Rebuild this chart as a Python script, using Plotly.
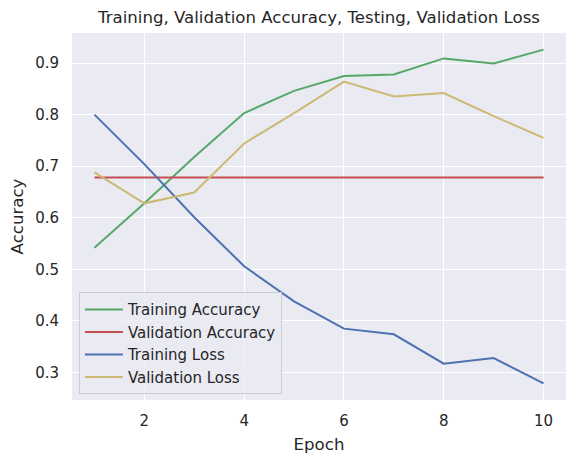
import plotly.graph_objects as go

epochs = [1, 2, 3, 4, 5, 6, 7, 8, 9, 10]
training_accuracy = [0.542, 0.628, 0.718, 0.803, 0.846, 0.875, 0.878, 0.909, 0.899, 0.926]
validation_accuracy = [0.678, 0.678, 0.678, 0.678, 0.678, 0.678, 0.678, 0.678, 0.678, 0.678]
training_loss = [0.800, 0.704, 0.601, 0.506, 0.438, 0.385, 0.374, 0.317, 0.328, 0.279]
validation_loss = [0.688, 0.628, 0.649, 0.744, 0.803, 0.864, 0.835, 0.842, 0.797, 0.755]

series_names = ["Training Accuracy", "Validation Accuracy", "Training Loss", "Validation Loss"]
series_colors = ["#55A868", "#C44E52", "#4C72B0", "#CCB974"]
series_values = [training_accuracy, validation_accuracy, training_loss, validation_loss]

xticks = [2, 4, 6, 8, 10]
yticks = [0.3, 0.4, 0.5, 0.6, 0.7, 0.8, 0.9]

FONT = "DejaVu Sans"
TXT = "#262626"

fig = go.Figure()
for name, color, vals in zip(series_names, series_colors, series_values):
    fig.add_trace(go.Scatter(x=epochs, y=vals, mode="lines", name=name,
                             line=dict(color=color, width=2)))

fig.update_layout(
    width=561, height=447,
    margin=dict(l=64, r=3, t=25, b=55),
    paper_bgcolor="white",
    plot_bgcolor="#EAEAF2",
    font=dict(family=FONT, color=TXT, size=15),
    title=dict(text="Training, Validation Accuracy, Testing, Validation Loss",
               x=0.5, xref="paper", xanchor="center",
               y=1, yref="paper", yanchor="bottom", pad=dict(b=10),
               font=dict(size=16.6, family=FONT, color=TXT)),
    showlegend=True,
    legend=dict(x=0.014, y=0.016, xanchor="left", yanchor="bottom",
                bgcolor="rgba(234,234,242,0.8)", bordercolor="#CCCCCC", borderwidth=1,
                font=dict(size=15, family=FONT, color=TXT),
                itemwidth=38, tracegroupgap=0),
    xaxis=dict(range=[0.55, 10.45], tickvals=xticks, showgrid=True, gridcolor="white",
               gridwidth=1.4, zeroline=False, showline=False, ticks="",
               ticklabelstandoff=10,
               tickfont=dict(size=15, color=TXT),
               title=dict(text="Epoch", font=dict(size=16.6, color=TXT), standoff=9)),
    yaxis=dict(range=[0.2466, 0.9583], tickvals=yticks, ticktext=[f"{v:.1f}" for v in yticks],
               showgrid=True, gridcolor="white",
               gridwidth=1.4, zeroline=False, showline=False, ticks="",
               ticklabelstandoff=12,
               tickfont=dict(size=15, color=TXT),
               title=dict(text="Accuracy", font=dict(size=16.6, color=TXT), standoff=8)),
)

fig.write_html("out.html")
